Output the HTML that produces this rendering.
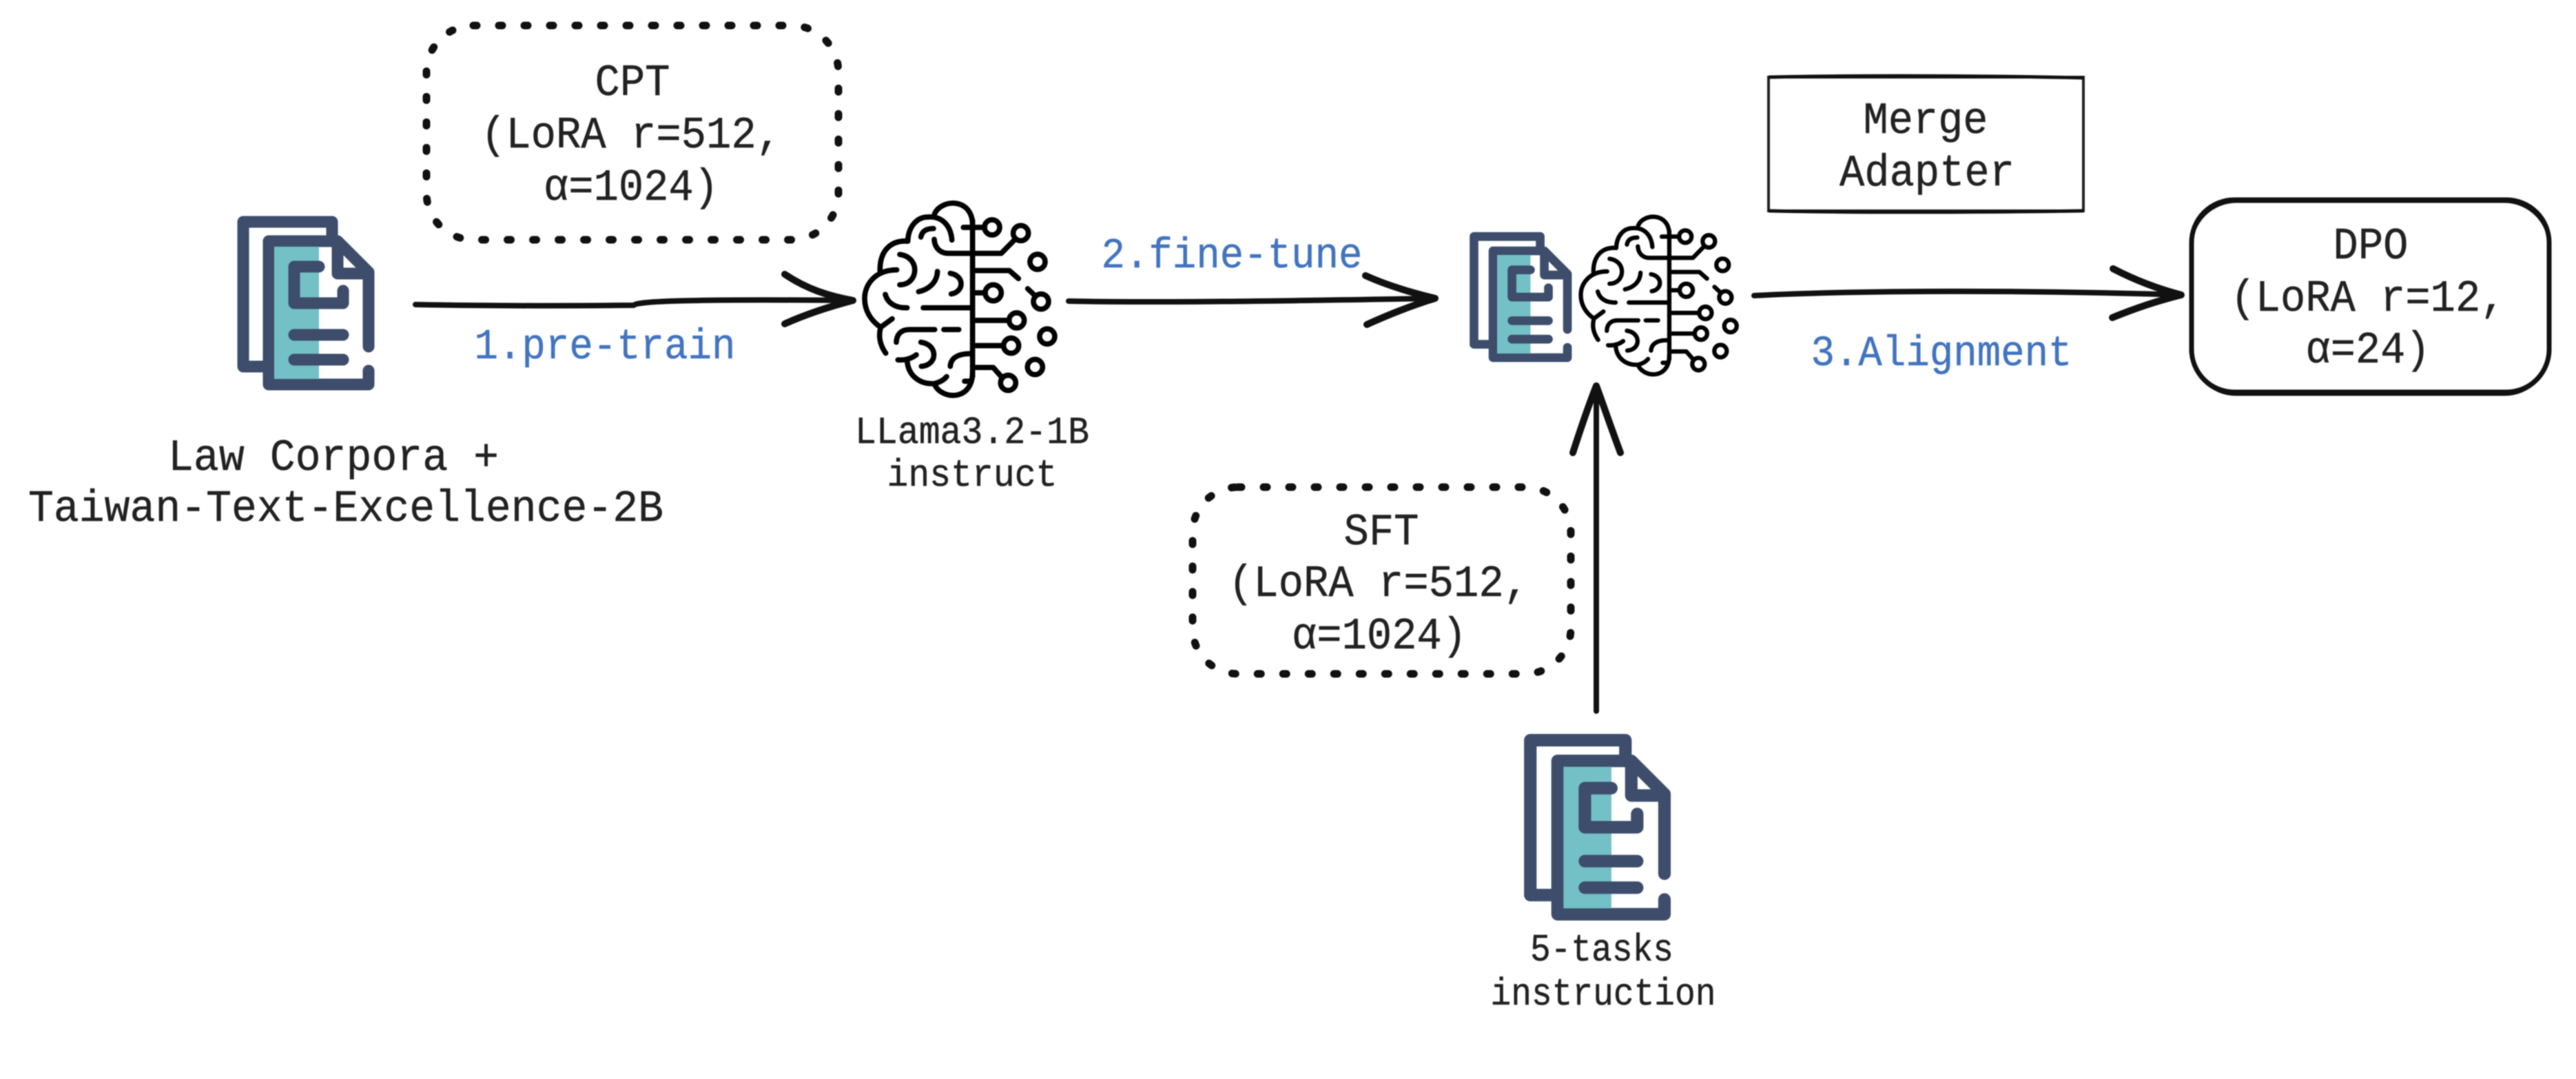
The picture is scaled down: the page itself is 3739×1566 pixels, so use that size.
<!DOCTYPE html>
<html><head><meta charset="utf-8"><style>
html,body{margin:0;padding:0;background:#fff}
svg{display:block;filter:blur(.7px)}
text{font-family:"Liberation Mono","DejaVu Sans Mono",monospace;fill:#222;stroke:#222;stroke-width:.5px;text-anchor:middle}
.b{fill:#4274c0;stroke:#4274c0;font-size:62px}
.m{font-size:65px}
.s{font-size:56px}
.a{fill:none;stroke:#111;stroke-width:8;stroke-linecap:round;stroke-linejoin:round}
.h{fill:none;stroke:#111;stroke-width:10;stroke-linecap:round;stroke-linejoin:round}
.d{fill:none;stroke:#111;stroke-width:11;stroke-linecap:round;stroke-dasharray:5 32}
</style></head><body>
<svg xmlns="http://www.w3.org/2000/svg" width="3739" height="1566" viewBox="0 0 3739 1566">
<defs>
<g id="doc" fill="none" stroke="#3d4d6b" stroke-width="17" stroke-linecap="round" stroke-linejoin="round">
<path d="M85 262H53V52H182V80"/>
<path d="M190 80H90V288H235V268M235 233V125L190 80V127H235" fill="none"/>
<rect x="98" y="88" width="65" height="192" fill="#73c0c6" stroke="none"/>
<path d="M163 117H127V170H198V152M127 216H198M127 252H198"/>
</g>
<g id="brain" fill="none" stroke="#000" stroke-width="23" stroke-linecap="round" stroke-linejoin="round">
<path d="M575 150V830"/>
<path d="M410 120C440 55 575 50 575 170"/>
<path d="M485 235C480 170 440 130 380 135C330 135 295 180 293 240"/>
<path d="M293 240C220 235 170 280 172 370"/>
<path d="M245 365C150 365 105 430 105 490C105 540 130 585 175 615"/>
<path d="M225 578L175 615C165 650 170 690 197 728"/>
<path d="M258 298C350 310 340 430 258 430"/>
<path d="M350 222C355 195 375 185 405 185"/>
<path d="M408 232C410 270 435 293 470 293H700L762 230"/>
<path d="M535 180H628"/><circle cx="660" cy="180" r="33"/>
<circle cx="785" cy="205" r="33"/>
<circle cx="858" cy="330" r="33"/>
<path d="M590 368H735L775 403"/>
<path d="M340 460C385 450 420 420 422 372"/>
<path d="M478 380C540 390 540 460 482 470"/>
<path d="M590 465H630"/><circle cx="665" cy="465" r="35"/>
<path d="M195 472C205 510 240 532 290 530"/>
<path d="M360 530H565"/>
<path d="M815 447L850 480"/><circle cx="873" cy="503" r="33"/>
<path d="M590 585H733"/><circle cx="767" cy="585" r="33"/>
<circle cx="900" cy="655" r="33"/>
<path d="M243 680C245 640 270 625 300 625H410"/>
<path d="M450 625H515"/>
<path d="M350 680C425 690 425 780 352 785"/>
<path d="M590 695H708"/><circle cx="743" cy="695" r="33"/>
<path d="M250 757C285 760 310 750 330 735"/>
<path d="M290 760C295 830 350 865 410 860C430 855 450 845 462 830"/>
<path d="M410 865C440 930 575 940 575 810"/>
<path d="M478 785C480 750 510 730 565 730"/>
<path d="M540 850H570"/>
<path d="M590 790H665L702 832"/><circle cx="730" cy="857" r="33"/>
<circle cx="847" cy="788" r="33"/>
</g>
</defs>
<rect width="3739" height="1566" fill="#fff"/>

<use href="#doc" transform="translate(300 270)"/>
<use href="#doc" transform="translate(2100 304.5) scale(.745)"/>
<use href="#doc" transform="translate(2164.5 1018.7) scale(1.07)"/>
<use href="#brain" transform="translate(1220 270) scale(.3333)"/>
<use href="#brain" transform="translate(2265.8 294.2) scale(.2733)"/>

<path class="a" d="M603 442C700 444 820 444 920 443C925 437 1000 434 1238 436"/>
<path class="h" d="M1139 398C1172 420 1204 430 1238 436C1204 445 1172 455 1139 470"/>
<path class="a" d="M1551 437C1700 440 1900 436 2083 433"/>
<path class="h" d="M1982 400C2015 415 2050 425 2083 433C2050 443 2015 457 1984 471"/>
<path class="a" d="M2546 429C2700 421 2950 421 3166 428"/>
<path class="h" d="M3067 390C3100 407 3135 420 3166 428C3130 437 3100 447 3066 461"/>
<path class="a" d="M2317 1032V560"/>
<path class="h" d="M2283 657C2295 620 2305 590 2317 560C2328 590 2340 625 2352 657"/>

<rect class="d" x="619" y="37" width="598" height="311" rx="68"/>
<rect class="d" x="1731" y="707" width="549" height="271" rx="66"/>

<rect x="2567" y="112" width="457" height="194" fill="none" stroke="#222" stroke-width="4"/>
<path d="M2567 112C2700 109 2900 110 3024 113M2567 306C2700 309 2900 308 3024 306" fill="none" stroke="#111" stroke-width="5"/>

<rect x="3181" y="290" width="519" height="279" rx="62" fill="none" stroke="#111" stroke-width="7"/>
<rect x="3180" y="292" width="521" height="280" rx="66" fill="none" stroke="#111" stroke-width="5"/>

<text class="m" x="918" y="138" textLength="109" lengthAdjust="spacingAndGlyphs">CPT</text>
<text class="m" x="916" y="214" textLength="436" lengthAdjust="spacingAndGlyphs">(LoRA r=512,</text>
<text class="m" x="916" y="290" textLength="254" lengthAdjust="spacingAndGlyphs">α=1024)</text>

<text class="m" x="2005" y="790" textLength="109" lengthAdjust="spacingAndGlyphs">SFT</text>
<text class="m" x="2001" y="865" textLength="436" lengthAdjust="spacingAndGlyphs">(LoRA r=512,</text>
<text class="m" x="2002" y="941" textLength="254" lengthAdjust="spacingAndGlyphs">α=1024)</text>

<text class="m" x="3441" y="375" textLength="109" lengthAdjust="spacingAndGlyphs">DPO</text>
<text class="m" x="3437" y="451" textLength="399" lengthAdjust="spacingAndGlyphs">(LoRA r=12,</text>
<text class="m" x="3437" y="526" textLength="181" lengthAdjust="spacingAndGlyphs">α=24)</text>

<text class="m" x="2795" y="193" textLength="181" lengthAdjust="spacingAndGlyphs">Merge</text>
<text class="m" x="2797" y="269" textLength="254" lengthAdjust="spacingAndGlyphs">Adapter</text>

<text class="m" x="484" y="682" textLength="480" lengthAdjust="spacingAndGlyphs">Law Corpora +</text>
<text class="m" x="502" y="756" textLength="922" lengthAdjust="spacingAndGlyphs">Taiwan-Text-Excellence-2B</text>

<text class="s" x="1411" y="643" textLength="340" lengthAdjust="spacingAndGlyphs">LLama3.2-1B</text>
<text class="s" x="1411" y="705" textLength="247" lengthAdjust="spacingAndGlyphs">instruct</text>

<text class="s" x="2325" y="1394" textLength="208" lengthAdjust="spacingAndGlyphs">5-tasks</text>
<text class="s" x="2327" y="1458" textLength="327" lengthAdjust="spacingAndGlyphs">instruction</text>

<text class="b" x="878" y="520" textLength="379" lengthAdjust="spacingAndGlyphs">1.pre-train</text>
<text class="b" x="1788" y="388" textLength="379" lengthAdjust="spacingAndGlyphs">2.fine-tune</text>
<text class="b" x="2818" y="530" textLength="379" lengthAdjust="spacingAndGlyphs">3.Alignment</text>
</svg>
</body></html>
